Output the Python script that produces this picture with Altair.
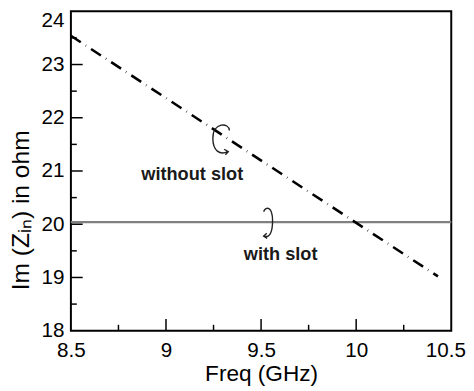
import altair as alt
import pandas as pd

# data
freq_without = [8.5, 10.43]
im_without = [23.54, 19.02]
freq_with = [8.5, 10.5]
im_with = [20.04, 20.04]

x_label_vals = [8.5, 9.0, 9.5, 10.0, 10.5]
y_label_vals = [18, 19, 20, 21, 22, 23, 24]
x_major = [9.0, 9.5, 10.0]
x_minor = [8.75, 9.25, 9.75, 10.25]
y_major = [19, 20, 21, 22, 23]
y_minor = [18.5, 19.5, 20.5, 21.5, 22.5, 23.5]

note_text = ["without slot", "with slot"]
note_x = [9.138, 9.603]
note_y = [20.94, 19.44]

curl_x = [9.296, 9.534]
curl_y = [21.6, 20.03]

FONT = "Liberation Sans"

xs = alt.Scale(domain=[8.5, 10.5], nice=False, zero=False)
ys = alt.Scale(domain=[18, 24], nice=False, zero=False)

df_without = pd.DataFrame({"f": freq_without, "v": im_without})
df_with = pd.DataFrame({"f": freq_with, "v": im_with})

x_axis = alt.Axis(values=x_label_vals, format="~g", tickSize=0, domain=False, grid=False,
                  labelFontSize=21, labelPadding=9, labelFlush=False, labelColor="black",
                  labelOffset={"condition": {"test": "datum.value == 10.5", "value": -6}, "value": 0},
                  labelFont=FONT, title="Freq (GHz)", titleFont=FONT, titleFontSize=23,
                  titleFontWeight="normal", titleColor="black", titlePadding=3)
y_axis = alt.Axis(values=y_label_vals, tickSize=0, domain=False, grid=False,
                  labelFontSize=21, labelPadding=7, labelFlush=False, labelColor="black",
                  labelOffset={"condition": {"test": "datum.value == 24", "value": 9}, "value": 0},
                  labelFont=FONT, title="Im (Zᵢₙ) in ohm", titleFont=FONT, titleFontSize=25,
                  titleFontWeight="normal", titleColor="black", titleX=-43, titleY=202,
                  titleAngle=-90, titleBaseline="alphabetic")

X = alt.X("f:Q", scale=xs, axis=x_axis)
Y = alt.Y("v:Q", scale=ys, axis=y_axis)

with_line = alt.Chart(df_with).mark_line(color="#808080", strokeWidth=2.4).encode(x=X, y=Y)

without_line = alt.Chart(df_without).mark_line(
    color="black", strokeWidth=2.6, strokeDash=[12, 6, 0.5, 6], strokeCap="butt"
).encode(x=X, y=Y)

# inward ticks
ytick_major = alt.Chart(pd.DataFrame({"v": y_major})).mark_rule(color="black", strokeWidth=1.5).encode(
    y=Y, x=alt.value(0), x2=alt.value(12))
ytick_minor = alt.Chart(pd.DataFrame({"v": y_minor})).mark_rule(color="black", strokeWidth=1.5).encode(
    y=Y, x=alt.value(0), x2=alt.value(6))
xtick_major = alt.Chart(pd.DataFrame({"f": x_major})).mark_rule(color="black", strokeWidth=1.5).encode(
    x=X, y=alt.value(325), y2=alt.value(313))
xtick_minor = alt.Chart(pd.DataFrame({"f": x_minor})).mark_rule(color="black", strokeWidth=1.5).encode(
    x=X, y=alt.value(325), y2=alt.value(319))

notes = alt.Chart(pd.DataFrame({"t": note_text, "f": note_x, "v": note_y})).mark_text(
    font=FONT, fontSize=18.5, fontWeight="bold", color="#1a1a1a", align="center", baseline="middle"
).encode(x=X, y=Y, text="t:N")

curl1_path = ("M 0.45 -0.55 C 0.45 -1.05 -0.6 -1.1 -0.6 -0.05 C -0.6 0.75 -0.15 1.05 0.35 0.8 "
              "M 0.12 0.65 L 0.38 0.8 L 0.2 1.0")
curl2_path = ("M -0.25 -0.7 C -0.1 -1.05 0.32 -1.05 0.32 -0.1 C 0.32 0.75 0.05 0.98 -0.22 0.85 "
              "M -0.05 0.68 L -0.25 0.86 L -0.02 1.0")

curl1 = alt.Chart(pd.DataFrame({"f": [curl_x[0]], "v": [curl_y[0]]})).mark_point(
    shape=curl1_path, size=1024, filled=False, stroke="#222222", strokeWidth=1.4, opacity=1
).encode(x=X, y=Y)

curl2 = alt.Chart(pd.DataFrame({"f": [curl_x[1]], "v": [curl_y[1]]})).mark_point(
    shape=curl2_path, size=1024, filled=False, stroke="#222222", strokeWidth=1.4, opacity=1
).encode(x=X, y=Y)

chart = alt.layer(
    with_line, without_line, ytick_major, ytick_minor, xtick_major, xtick_minor, notes, curl1, curl2
).properties(
    width=387, height=325,
    autosize=alt.AutoSizeParams(type="none"),
    padding={"left": 64, "top": 0, "right": 15, "bottom": 58},
    background="white",
).configure_view(stroke="black", strokeWidth=2)

chart.save("out.html", embed_options={"renderer": "svg", "actions": False})
